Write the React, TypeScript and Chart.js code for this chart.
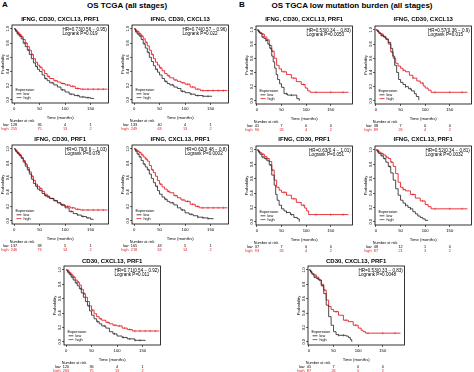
import React, { useEffect, useRef } from "react";
import { Chart, registerables } from "chart.js";
Chart.register(...registerables);

const FONT = "'Liberation Sans', Arial, Helvetica, sans-serif";
const RED = "#e3141d";
const DARK = "#2b2b2b";

const X_TICKS = [0, 50, 100, 150];
const Y_TICKS = [0, 0.2, 0.4, 0.6, 0.8, 1.0];
const RISK_ROWS = ["low", "high"];

const HEADER_A = "OS TCGA (all stages)";
const HEADER_B = "OS TGCA low mutation burden (all stages)";

const TITLES = [
  "IFNG, CD30, CXCL13, PRF1",
  "IFNG, CD30, CXCL13",
  "IFNG, CD30, CXCL13, PRF1",
  "IFNG, CD30, CXCL13",
  "IFNG, CD30, PRF1",
  "IFNG, CXCL13, PRF1",
  "IFNG, CD30, PRF1",
  "IFNG, CXCL13, PRF1",
  "CD30, CXCL13, PRF1",
  "CD30, CXCL13, PRF1",
];

const HR_TEXT = [
  "HR=0.73(0.56 \u2212 0.95)",
  "HR=0.74(0.57 \u2212 0.96)",
  "HR=0.53(0.34 \u2212 0.83)",
  "HR=0.57(0.36 \u2212 0.9)",
  "HR=0.79(0.6 \u2212 1.03)",
  "HR=0.62(0.48 \u2212 0.8)",
  "HR=0.63(0.4 \u2212 1.01)",
  "HR=0.52(0.34 \u2212 0.81)",
  "HR=0.71(0.54 \u2212 0.92)",
  "HR=0.53(0.33 \u2212 0.83)",
];

const P_TEXT = [
  "Logrank P=0.019",
  "Logrank P=0.022",
  "Logrank P=0.0053",
  "Logrank P=0.015",
  "Logrank P=0.078",
  "Logrank P=0.0002",
  "Logrank P=0.051",
  "Logrank P=0.0032",
  "Logrank P=0.011",
  "Logrank P=0.0048",
];

const RISK_LOW = [
  [128, 36, 4, 1],
  [133, 40, 4, 1],
  [41, 7, 0, 0],
  [38, 7, 0, 0],
  [137, 38, 5, 1],
  [165, 43, 5, 1],
  [37, 7, 0, 0],
  [48, 12, 1, 0],
  [120, 36, 4, 1],
  [45, 7, 0, 0],
];

const RISK_HIGH = [
  [255, 75, 13, 2],
  [249, 63, 13, 2],
  [90, 26, 4, 2],
  [89, 26, 4, 2],
  [246, 73, 14, 2],
  [218, 63, 14, 2],
  [93, 26, 4, 2],
  [87, 21, 3, 2],
  [263, 75, 13, 2],
  [87, 26, 5, 2],
];

// Kaplan-Meier curves: [time (months), survival probability]
const LOW_1 = [[0,1],[3,0.97],[6,0.93],[10,0.9],[14,0.86],[18,0.8],[22,0.75],[26,0.7],[30,0.64],[34,0.58],[38,0.52],[42,0.47],[46,0.43],[50,0.4],[55,0.35],[60,0.3],[65,0.27],[70,0.24],[78,0.21],[85,0.18],[92,0.14],[100,0.11],[108,0.08],[118,0.06],[128,0.04],[140,0.03],[150,0.02],[156,0.01]];
const HIGH_1 = [[0,1],[3,0.98],[6,0.95],[10,0.92],[14,0.89],[18,0.85],[22,0.8],[26,0.75],[30,0.7],[34,0.64],[38,0.58],[42,0.53],[46,0.49],[50,0.46],[55,0.42],[60,0.37],[65,0.33],[70,0.3],[78,0.27],[85,0.25],[92,0.23],[100,0.21],[110,0.19],[120,0.16],[130,0.15],[183,0.15]];

const LOW_2 = [[0,1],[3,0.96],[6,0.93],[10,0.9],[14,0.85],[18,0.79],[22,0.73],[26,0.67],[30,0.6],[34,0.54],[38,0.48],[42,0.43],[46,0.39],[50,0.35],[55,0.3],[60,0.26],[65,0.23],[70,0.21],[78,0.18],[85,0.16],[92,0.12],[100,0.1],[110,0.08],[120,0.06],[135,0.05],[153,0.05]];
const HIGH_2 = [[0,1],[3,0.98],[6,0.96],[10,0.93],[14,0.9],[18,0.86],[22,0.81],[26,0.76],[30,0.7],[34,0.64],[38,0.58],[42,0.53],[46,0.49],[50,0.45],[55,0.41],[60,0.37],[65,0.34],[70,0.31],[78,0.28],[85,0.26],[92,0.24],[100,0.22],[110,0.18],[120,0.15],[130,0.13],[183,0.13]];

const LOW_3 = [[0,1],[3,0.97],[6,0.95],[10,0.9],[14,0.88],[18,0.85],[22,0.8],[26,0.74],[30,0.63],[33,0.55],[36,0.46],[39,0.37],[42,0.3],[46,0.24],[50,0.19],[55,0.1],[62,0.08],[78,0.08],[81,0.03],[86,0]];
const HIGH_3 = [[0,1],[3,0.98],[6,0.96],[10,0.94],[15,0.9],[20,0.86],[25,0.78],[30,0.7],[35,0.6],[40,0.5],[45,0.45],[50,0.41],[60,0.37],[70,0.32],[80,0.27],[90,0.23],[98,0.18],[103,0.14],[108,0.12],[186,0.12]];

const LOW_4 = [[0,1],[3,0.98],[6,0.95],[10,0.92],[15,0.9],[20,0.87],[25,0.82],[30,0.74],[34,0.63],[38,0.5],[42,0.4],[46,0.3],[50,0.26],[55,0.23],[60,0.2],[66,0.17],[72,0.14],[78,0.1],[82,0.06],[87,0.01]];
const HIGH_4 = [[0,1],[3,0.98],[6,0.96],[10,0.94],[15,0.91],[20,0.87],[25,0.8],[30,0.69],[35,0.6],[40,0.53],[45,0.49],[50,0.46],[55,0.43],[60,0.41],[68,0.36],[75,0.32],[83,0.28],[90,0.25],[96,0.21],[100,0.18],[106,0.15],[112,0.12],[186,0.12]];

const LOW_5 = [[0,1],[3,0.97],[6,0.94],[10,0.91],[14,0.87],[18,0.82],[22,0.76],[26,0.71],[30,0.65],[34,0.58],[38,0.52],[42,0.48],[46,0.44],[50,0.42],[55,0.38],[60,0.35],[65,0.33],[70,0.31],[78,0.28],[85,0.25],[92,0.22],[100,0.18],[108,0.13],[116,0.1],[124,0.08],[132,0.06],[142,0.04],[150,0.02],[156,0.02]];
const HIGH_5 = [[0,1],[3,0.98],[6,0.95],[10,0.92],[14,0.88],[18,0.84],[22,0.79],[26,0.74],[30,0.68],[34,0.62],[38,0.56],[42,0.51],[46,0.48],[50,0.45],[55,0.41],[60,0.37],[65,0.34],[70,0.31],[78,0.28],[85,0.25],[92,0.22],[100,0.2],[110,0.18],[120,0.16],[130,0.15],[183,0.15]];

const LOW_6 = [[0,1],[3,0.97],[6,0.93],[10,0.89],[14,0.84],[18,0.79],[22,0.75],[26,0.71],[30,0.65],[34,0.59],[38,0.53],[42,0.48],[46,0.42],[50,0.37],[55,0.33],[60,0.3],[65,0.27],[70,0.25],[78,0.22],[85,0.18],[92,0.15],[100,0.11],[108,0.09],[116,0.07],[125,0.05],[135,0.04],[145,0.03],[155,0.02]];
const HIGH_6 = [[0,1],[3,0.99],[6,0.97],[10,0.95],[14,0.92],[18,0.89],[22,0.86],[26,0.83],[30,0.77],[34,0.71],[38,0.67],[42,0.62],[46,0.56],[50,0.51],[55,0.47],[60,0.44],[65,0.41],[70,0.39],[78,0.35],[85,0.32],[92,0.29],[100,0.27],[110,0.23],[120,0.2],[128,0.18],[183,0.18]];

const LOW_7 = [[0,1],[3,0.97],[6,0.94],[10,0.9],[15,0.88],[20,0.85],[25,0.79],[30,0.65],[35,0.51],[38,0.38],[41,0.3],[45,0.23],[50,0.18],[55,0.15],[60,0.13],[68,0.1],[75,0.06],[82,0.04],[86,0]];
const HIGH_7 = [[0,1],[3,0.98],[6,0.96],[10,0.94],[15,0.91],[20,0.88],[25,0.84],[30,0.72],[35,0.58],[40,0.48],[45,0.44],[50,0.41],[60,0.37],[70,0.32],[80,0.27],[90,0.23],[97,0.19],[101,0.15],[105,0.1],[186,0.1]];

const LOW_8 = [[0,1],[3,0.97],[6,0.95],[10,0.92],[15,0.88],[20,0.83],[25,0.77],[30,0.68],[35,0.58],[40,0.46],[45,0.37],[50,0.3],[55,0.26],[60,0.23],[65,0.2],[70,0.18],[75,0.14],[80,0.11],[85,0.08],[90,0.06],[95,0.04],[100,0.02],[105,0.01]];
const HIGH_8 = [[0,1],[3,0.99],[6,0.97],[10,0.95],[15,0.93],[20,0.9],[25,0.88],[30,0.83],[35,0.77],[40,0.67],[45,0.55],[50,0.48],[55,0.45],[60,0.43],[70,0.38],[80,0.33],[90,0.29],[100,0.24],[106,0.21],[112,0.18],[186,0.18]];

const LOW_9 = [[0,1],[3,0.97],[6,0.94],[10,0.9],[14,0.86],[18,0.82],[22,0.78],[26,0.74],[30,0.68],[34,0.62],[38,0.56],[42,0.5],[46,0.43],[50,0.37],[55,0.32],[60,0.28],[65,0.25],[70,0.22],[78,0.19],[85,0.14],[92,0.11],[100,0.08],[110,0.06],[120,0.04],[135,0.02],[155,0.01]];
const HIGH_9 = [[0,1],[3,0.99],[6,0.96],[10,0.93],[14,0.9],[18,0.86],[22,0.83],[26,0.79],[30,0.73],[34,0.67],[38,0.62],[42,0.56],[46,0.5],[50,0.44],[55,0.39],[60,0.35],[65,0.32],[70,0.3],[78,0.27],[85,0.25],[92,0.23],[100,0.22],[110,0.19],[120,0.17],[130,0.15],[183,0.15]];

const LOW_10 = [[0,1],[3,0.97],[6,0.94],[10,0.9],[15,0.88],[20,0.86],[25,0.78],[30,0.67],[35,0.51],[40,0.35],[45,0.23],[50,0.14],[55,0.1],[60,0.09],[75,0.08],[80,0.06],[84,0.03],[87,0]];
const HIGH_10 = [[0,1],[3,0.98],[6,0.95],[10,0.93],[15,0.9],[20,0.86],[25,0.8],[30,0.72],[35,0.58],[40,0.49],[45,0.45],[50,0.42],[60,0.37],[70,0.3],[80,0.28],[90,0.23],[100,0.19],[106,0.16],[110,0.14],[115,0.12],[186,0.12]];

// censoring times (months) marked with small ticks on each curve
const CENS_LOW_A = [4, 8, 12, 20, 28, 45, 62, 75, 95, 112, 125, 135, 145];
const CENS_HIGH_A = [4, 8, 12, 16, 24, 36, 52, 68, 82, 96, 105, 115, 125, 135, 145, 155, 165, 175];
const CENS_LOW_B = [5, 12, 18, 28, 60, 70];
const CENS_HIGH_B = [5, 12, 22, 32, 55, 75, 95, 120, 150, 175];

const LOWS = [LOW_1, LOW_2, LOW_3, LOW_4, LOW_5, LOW_6, LOW_7, LOW_8, LOW_9, LOW_10];
const HIGHS = [HIGH_1, HIGH_2, HIGH_3, HIGH_4, HIGH_5, HIGH_6, HIGH_7, HIGH_8, HIGH_9, HIGH_10];
const COHORT = ["A", "A", "B", "B", "A", "A", "B", "B", "A", "B"];

// x-axis limits for each cohort (months)
const X_LIMITS: Record<string, number[]> = { A: [-4, 185], B: [-2, 194] };

// layout of the plot boxes (left, top, height, title gap)
const BOXES = [
  [12, 25, 78, 6],
  [132, 25, 78, 6],
  [256, 26, 78, 6.5],
  [375, 26, 78, 6.5],
  [12, 145, 79, 6],
  [132, 145, 79, 6],
  [256, 146, 79, 6.5],
  [375, 146, 79, 6.5],
  [64, 266, 79, 4.5],
  [308, 266, 79, 4.5],
];

const BOX_W = 97;
const Y_AXIS_W = 12;
const X_AXIS_H = 17;
const PAD_TOP = 10;
const PAD_RIGHT = 4;
const PAD_BOTTOM = 12;

function survivalAt(curve: number[][], t: number) {
  let s = curve[0][1];
  for (const [x, y] of curve) {
    if (x <= t) s = y;
    else break;
  }
  return s;
}

const decorPlugin = {
  id: "kmDecor",
  afterDraw(chart: any, _args: any, opts: any) {
    const i = opts.index as number;
    const { ctx, chartArea: a, scales } = chart;
    ctx.save();
    // frame
    ctx.strokeStyle = "#000";
    ctx.lineWidth = 0.8;
    ctx.strokeRect(a.left, a.top, a.right - a.left, a.bottom - a.top);
    // title
    ctx.fillStyle = "#000";
    ctx.font = `bold 6px ${FONT}`;
    ctx.textAlign = "center";
    ctx.textBaseline = "middle";
    ctx.fillText(TITLES[i], (a.left + a.right) / 2, a.top - opts.gap);
    // y tick labels (rotated, R style)
    ctx.font = `3.8px ${FONT}`;
    for (const v of Y_TICKS) {
      const y = scales.y.getPixelForValue(v);
      ctx.save();
      ctx.translate(a.left - 4.3, y);
      ctx.rotate(-Math.PI / 2);
      ctx.fillText(v.toFixed(1), 0, 0);
      ctx.restore();
    }
    // HR and logrank text
    ctx.font = `4.6px ${FONT}`;
    ctx.textAlign = "left";
    const w = ctx.measureText(HR_TEXT[i]).width;
    const tx = a.right - w - 1.5;
    ctx.fillText(HR_TEXT[i], tx, a.top + 4.3);
    ctx.fillText(P_TEXT[i], tx, a.top + 8.7);
    // legend
    ctx.font = `3.8px ${FONT}`;
    ctx.fillText("Expression", a.left + 3.5, a.bottom - 13.5);
    const rows = [
      { label: RISK_ROWS[0], color: DARK, y: a.bottom - 9.2 },
      { label: RISK_ROWS[1], color: RED, y: a.bottom - 5.4 },
    ];
    ctx.lineWidth = 0.8;
    for (const r of rows) {
      ctx.strokeStyle = r.color;
      ctx.beginPath();
      ctx.moveTo(a.left + 4.5, r.y);
      ctx.lineTo(a.left + 9.5, r.y);
      ctx.stroke();
      ctx.fillStyle = "#000";
      ctx.fillText(r.label, a.left + 11.5, r.y);
    }
    // number at risk table
    ctx.font = `3.8px ${FONT}`;
    ctx.fillStyle = "#000";
    ctx.textAlign = "center";
    ctx.fillText("Number at risk", a.left + 10, a.bottom + 18);
    const tables = [RISK_LOW[i], RISK_HIGH[i]];
    tables.forEach((vals, r) => {
      const y = a.bottom + 22 + r * 4;
      ctx.fillStyle = r === 0 ? "#000" : RED;
      ctx.textAlign = "right";
      ctx.fillText(RISK_ROWS[r], a.left - 3.5, y);
      ctx.textAlign = "center";
      vals.forEach((n, k) => {
        ctx.fillText(String(n), scales.x.getPixelForValue(X_TICKS[k]), y);
      });
    });
    ctx.restore();
  },
};

function KMPanel({ index }: { index: number }) {
  const ref = useRef<HTMLCanvasElement | null>(null);
  const [bl, bt, bh, gap] = BOXES[index];
  const width = Y_AXIS_W + BOX_W + PAD_RIGHT;
  const height = PAD_TOP + bh + X_AXIS_H + PAD_BOTTOM;

  useEffect(() => {
    if (!ref.current) return;
    const toXY = (arr: number[][]) => arr.map(([x, y]) => ({ x, y }));
    const low = LOWS[index];
    const high = HIGHS[index];
    const cohort = COHORT[index];
    const lowEnd = low[low.length - 1][0];
    const highEnd = high[high.length - 1][0];
    const censLow = (cohort === "A" ? CENS_LOW_A : CENS_LOW_B).filter((t) => t < lowEnd);
    const censHigh = (cohort === "A" ? CENS_HIGH_A : CENS_HIGH_B).filter((t) => t < highEnd);
    const [xmin, xmax] = X_LIMITS[cohort];
    const tickFont = { size: 4.2, family: FONT };
    const censorStyle = (color: string) => ({
      showLine: false,
      pointStyle: "line",
      rotation: 90,
      pointRadius: 1.1,
      pointBorderWidth: 0.6,
      pointBorderColor: color,
      borderColor: color,
      backgroundColor: color,
    });
    const chart = new Chart(ref.current, {
      type: "line",
      data: {
        datasets: [
          {
            label: "low",
            data: toXY(low),
            borderColor: DARK,
            borderWidth: 0.85,
            stepped: "before",
            pointRadius: 0,
            fill: false,
          },
          {
            label: "high",
            data: toXY(high),
            borderColor: RED,
            borderWidth: 0.85,
            stepped: "before",
            pointRadius: 0,
            fill: false,
          },
          {
            label: "low censored",
            data: censLow.map((t) => ({ x: t, y: survivalAt(low, t) })),
            ...censorStyle(DARK),
          },
          {
            label: "high censored",
            data: censHigh.map((t) => ({ x: t, y: survivalAt(high, t) })),
            ...censorStyle(RED),
          },
        ],
      },
      options: {
        animation: false,
        responsive: false,
        events: [],
        layout: { padding: { top: PAD_TOP, right: PAD_RIGHT, bottom: PAD_BOTTOM, left: 0 } },
        plugins: {
          legend: { display: false },
          tooltip: { enabled: false },
          kmDecor: { index, gap },
        } as any,
        scales: {
          x: {
            type: "linear",
            min: xmin,
            max: xmax,
            afterBuildTicks: (s: any) => {
              s.ticks = X_TICKS.map((v) => ({ value: v }));
            },
            afterFit: (s: any) => {
              s.height = X_AXIS_H;
            },
            grid: { drawOnChartArea: false, drawTicks: true, tickLength: 2, color: "#000", lineWidth: 0.6 },
            border: { display: false },
            ticks: { font: tickFont, color: "#000", padding: 1, autoSkip: false, maxRotation: 0, minRotation: 0 },
            title: { display: true, text: "Time (months)", font: tickFont, color: "#000", padding: 0 },
          },
          y: {
            type: "linear",
            min: -0.045,
            max: 1.055,
            afterBuildTicks: (s: any) => {
              s.ticks = Y_TICKS.map((v) => ({ value: v }));
            },
            afterFit: (s: any) => {
              s.width = Y_AXIS_W;
            },
            grid: { drawOnChartArea: false, drawTicks: true, tickLength: 2, color: "#000", lineWidth: 0.6 },
            border: { display: false },
            ticks: { display: false },
            title: { display: true, text: "Probability", font: tickFont, color: "#000", padding: 0 },
          },
        },
      } as any,
      plugins: [decorPlugin],
    });
    return () => chart.destroy();
  }, [index, gap]);

  return (
    <canvas
      ref={ref}
      width={width}
      height={height}
      style={{ position: "absolute", left: bl - Y_AXIS_W, top: bt - PAD_TOP, width, height }}
    />
  );
}

export default function App() {
  const headStyle: React.CSSProperties = {
    position: "absolute",
    fontFamily: FONT,
    fontWeight: "bold",
    fontSize: 8,
    lineHeight: "10px",
    whiteSpace: "nowrap",
    color: "#000",
  };
  return (
    <div
      style={{
        position: "absolute",
        left: 0,
        top: 0,
        width: 474,
        height: 372,
        overflow: "hidden",
        background: "#fff",
      }}
    >
      <div style={{ ...headStyle, left: 2, top: 0 }}>A</div>
      <div style={{ ...headStyle, left: 127, top: 1, transform: "translateX(-50%)" }}>{HEADER_A}</div>
      <div style={{ ...headStyle, left: 239, top: 0 }}>B</div>
      <div style={{ ...headStyle, left: 352, top: 1, transform: "translateX(-50%)" }}>{HEADER_B}</div>
      {TITLES.map((_, i) => (
        <KMPanel key={i} index={i} />
      ))}
    </div>
  );
}
